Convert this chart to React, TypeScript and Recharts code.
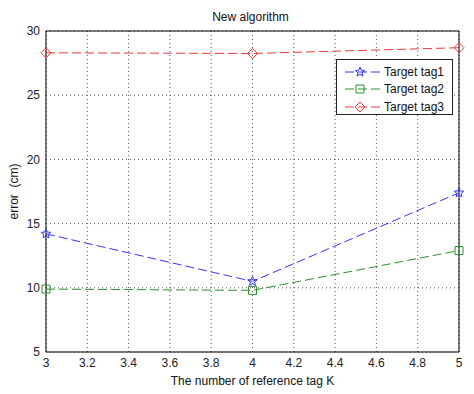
import React from 'react';
import { LineChart, Line, XAxis, YAxis, CartesianGrid, ReferenceLine, Legend } from 'recharts';

const kValues = [3, 4, 5];
const tag1 = [14.2, 10.5, 17.4];
const tag2 = [9.9, 9.8, 12.9];
const tag3 = [28.3, 28.25, 28.7];
const xTicks = [3, 3.2, 3.4, 3.6, 3.8, 4, 4.2, 4.4, 4.6, 4.8, 5];
const yTicks = [5, 10, 15, 20, 25, 30];
const seriesNames = ['Target tag1', 'Target tag2', 'Target tag3'];
const seriesKeys = ['tag1', 'tag2', 'tag3'];
const seriesColors = ['#3535f0', '#2e8f2e', '#ee3a3a'];
const markerKinds = ['star', 'square', 'diamond'];
const titleText = 'New algorithm';
const xLabelText = 'The number of reference tag K';
const yLabelText = 'error\u00a0 (cm)';

const data = kValues.map((k, i) => ({ k, tag1: tag1[i], tag2: tag2[i], tag3: tag3[i] }));

const FONT = '"Liberation Sans", Arial, Helvetica, sans-serif';

function markerPath(kind: string, cx: number, cy: number): string {
  if (kind === 'square') {
    const s = 4;
    return `M${cx - s},${cy - s}L${cx + s},${cy - s}L${cx + s},${cy + s}L${cx - s},${cy + s}Z`;
  }
  if (kind === 'diamond') {
    const s = 5;
    return `M${cx},${cy - s}L${cx + s},${cy}L${cx},${cy + s}L${cx - s},${cy}Z`;
  }
  const pts: string[] = [];
  for (let i = 0; i < 10; i++) {
    const r = i % 2 === 0 ? 5 : 2.2;
    const a = -Math.PI / 2 + (i * Math.PI) / 5;
    pts.push(`${(cx + r * Math.cos(a)).toFixed(2)},${(cy + r * Math.sin(a)).toFixed(2)}`);
  }
  return 'M' + pts.join('L') + 'Z';
}

function makeDot(kind: string, color: string) {
  return (props: any) => {
    const { cx, cy, index } = props;
    if (cx == null || cy == null) return <g key={`d${index}`} />;
    return (
      <path key={`d${kind}${index}`} d={markerPath(kind, cx, cy)} fill="none" stroke={color} strokeWidth={1} />
    );
  };
}

const LegendBox = () => (
  <div
    style={{
      width: 117,
      height: 56,
      boxSizing: 'border-box',
      border: '1px solid #222',
      background: '#fff',
      paddingTop: 3,
      fontFamily: FONT,
      fontSize: 12,
      color: '#111',
    }}
  >
    {seriesNames.map((name, i) => (
      <div key={name} style={{ display: 'flex', alignItems: 'center', height: 17.5 }}>
        <svg width={41} height={12} style={{ marginLeft: 6 }}>
          <line x1={2} y1={6} x2={37} y2={6} stroke={seriesColors[i]} strokeDasharray="9 4" />
          <path d={markerPath(markerKinds[i], 17, 6)} fill="none" stroke={seriesColors[i]} />
        </svg>
        <span>{name}</span>
      </div>
    ))}
  </div>
);

export default function App() {
  return (
    <div style={{ position: 'absolute', left: 0, top: 0, width: 474, height: 394, background: '#fff' }}>
      <div
        style={{
          position: 'absolute',
          left: 0,
          width: 501,
          top: 9,
          textAlign: 'center',
          fontFamily: FONT,
          fontSize: 12,
          color: '#111',
          lineHeight: '16px',
        }}
      >
        {titleText}
      </div>
      <LineChart
        width={474}
        height={394}
        data={data}
        margin={{ top: 31, right: 15, bottom: 0, left: 0 }}
      >
        <CartesianGrid stroke="#555" strokeDasharray="1 3" />
        <XAxis
          dataKey="k"
          type="number"
          domain={[3, 5]}
          ticks={xTicks}
          height={42}
          tickLine={false}
          tickSize={6}
          tickMargin={0}
          axisLine={{ stroke: '#000' }}
          tick={{ fontSize: 12, fontFamily: FONT, fill: '#222' }}
          label={{ value: xLabelText, position: 'insideBottom', offset: 9, fontSize: 12, fontFamily: FONT, fill: '#111' }}
        />
        <YAxis
          type="number"
          domain={[5, 30]}
          ticks={yTicks}
          width={46}
          tickLine={false}
          tickSize={6}
          tickMargin={0}
          axisLine={{ stroke: '#000' }}
          tick={{ fontSize: 12, fontFamily: FONT, fill: '#222' }}
          label={{ value: yLabelText, angle: -90, position: 'center', dx: -9, fontSize: 12, fontFamily: FONT, fill: '#111' }}
        />
        <ReferenceLine y={30} stroke="#000" />
        <ReferenceLine x={5} stroke="#000" />
        {seriesKeys.map((key, i) => (
          <Line
            key={key}
            dataKey={key}
            name={seriesNames[i]}
            type="linear"
            stroke={seriesColors[i]}
            strokeWidth={1}
            strokeDasharray="9 4"
            dot={makeDot(markerKinds[i], seriesColors[i])}
            activeDot={false}
            isAnimationActive={false}
          />
        ))}
        <Legend
          layout="vertical"
          align="center"
          verticalAlign="middle"
          content={() => <LegendBox />}
          wrapperStyle={{ left: 336, top: 59, width: 117, height: 56, right: 'auto', bottom: 'auto' }}
        />
      </LineChart>
    </div>
  );
}
